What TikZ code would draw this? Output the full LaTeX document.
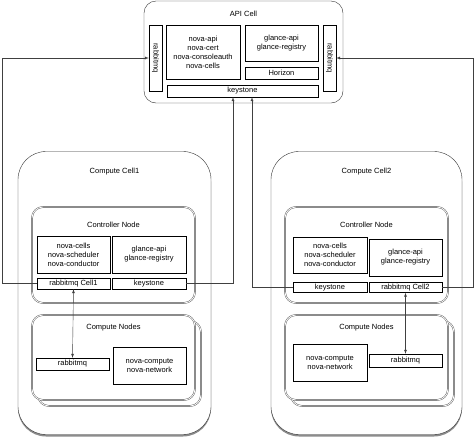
\documentclass[tikz,border=0pt]{standalone}
\usepackage{fontspec}
\setmainfont{Liberation Sans}
\usepackage{tikz}
\usetikzlibrary{shadows}

\begin{document}
\begin{tikzpicture}[x=1pt,y=-1pt,>=latex,
    box/.style={rectangle,draw,fill=white,inner sep=1pt,align=center},
    cell/.style={rectangle,draw=black!80,fill=white,rounded corners=#1},
    group/.style={rectangle,draw=black!70,double=white,double distance=0.8pt,fill=white,rounded corners=11pt},
    wire/.style={draw=black!75,->},
    every node/.style={font=\fontsize{7.5}{9}\selectfont}]
      \useasboundingbox (0,0) rectangle (474,437);
      % API cell
      \node at (243.5,52) [cell=12pt,minimum width=199,minimum height=102] (api) {};
      \node at (243.5,14) (apit) {API Cell};
      \node at (155.5,58) [box,minimum width=13,minimum height=66] (rmql) {\rotatebox{-90}{rabbitmq}};
      \node at (329.5,58) [box,minimum width=13,minimum height=66] (rmqr) {\rotatebox{-90}{rabbitmq}};
      \node at (203,52) [box,minimum width=74,minimum height=54] (nova) {nova-api\\nova-cert\\nova-consoleauth\\nova-cells};
      \node at (281.5,43) [box,minimum width=73,minimum height=36] (gl) {glance-api\\glance-registry};
      \node at (281.5,73) [box,minimum width=73,minimum height=12] (hz) {Horizon};
      \node at (242.5,91) [box,minimum width=151,minimum height=12] (ks) {keystone};
      % compute cell 1
      \node at (114.5,293) [cell=28pt,minimum width=193,minimum height=283,drop shadow={shadow xshift=0pt,shadow yshift=-2pt,fill=black!45,opacity=1}] (c1) {};
      \node at (114.5,172) (c1t) {Compute Cell1};
      \node at (113.5,255) [group,minimum width=163,minimum height=96] (ctl1) {};
      \node at (113.5,225) (ctl1t) {Controller Node};
      \node at (73.5,254.5) [box,minimum width=73,minimum height=37] (nc1) {nova-cells\\nova-scheduler\\nova-conductor};
      \node at (149,254.5) [box,minimum width=74,minimum height=37] (gl1) {glance-api\\glance-registry};
      \node at (73.5,283.5) [box,minimum width=73,minimum height=11] (rq1) {rabbitmq Cell1};
      \node at (149,283.5) [box,minimum width=74,minimum height=11] (ks1) {keystone};
      \node at (119.5,363.5) [group,minimum width=163,minimum height=85] (cnb1) {};
      \node at (113.5,357.5) [group,minimum width=163,minimum height=85] (cn1) {};
      \node at (113.5,328) (cn1t) {Compute Nodes};
      \node at (72.5,364) [box,minimum width=73,minimum height=12] (rmqc1) {rabbitmq};
      \node at (149.5,365.5) [box,minimum width=73,minimum height=37] (nco1) {nova-compute\\nova-network};
      % compute cell 2
      \node at (366.5,293) [cell=28pt,minimum width=191,minimum height=283,drop shadow={shadow xshift=0pt,shadow yshift=-2pt,fill=black!45,opacity=1}] (c2) {};
      \node at (366.5,172) (c2t) {Compute Cell2};
      \node at (366.5,255) [group,minimum width=163,minimum height=96] (ctl2) {};
      \node at (366.5,225) (ctl2t) {Controller Node};
      \node at (330,255) [box,minimum width=74,minimum height=36] (nc2) {nova-cells\\nova-scheduler\\nova-conductor};
      \node at (405.5,257.5) [box,minimum width=73,minimum height=37] (gl2) {glance-api\\glance-registry};
      \node at (330,287.5) [box,minimum width=74,minimum height=10] (ks2) {keystone};
      \node at (405.5,287.5) [box,minimum width=73,minimum height=10] (rq2) {rabbitmq Cell2};
      \node at (372.5,363.5) [group,minimum width=163,minimum height=85] (cnb2) {};
      \node at (366.5,357.5) [group,minimum width=163,minimum height=85] (cn2) {};
      \node at (366.5,328) (cn2t) {Compute Nodes};
      \node at (330,362.5) [box,minimum width=74,minimum height=37] (nco2) {nova-compute\\nova-network};
      \node at (405.5,360.5) [box,minimum width=73,minimum height=13] (rmqc2) {rabbitmq};
      % wires
      \coordinate (lb) at (2,283.5);
      \coordinate (rb) at (473,287.5);
      \draw[wire] (rq1.west) -- (lb) |- (rmql.west);
      \draw[wire] (rq2.east) -- (rb) |- (rmqr.east);
      \draw[wire] (ks1.east) -| ([xshift=-9.5pt]ks.south);
      \draw[wire] (ks2.west) -| ([xshift=9.5pt]ks.south);
      \draw[wire,<->] (rq1.south) -- (rmqc1.north);
      \draw[wire,<->] (rq2.south) -- (rmqc2.north);
  \end{tikzpicture}
\end{document}
